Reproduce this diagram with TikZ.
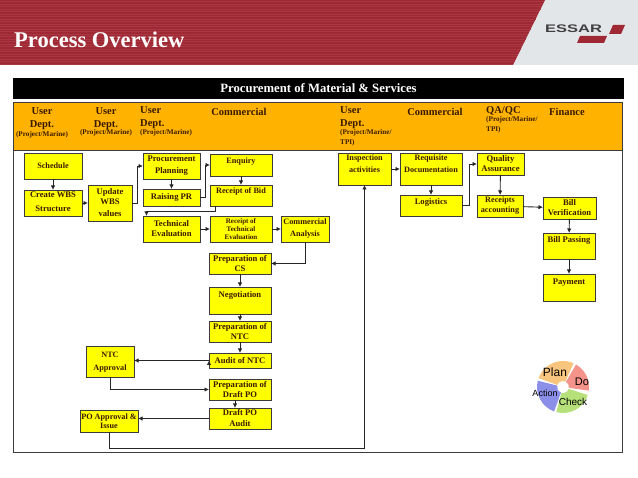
\documentclass[tikz,border=0pt]{standalone}
\usepackage{fontspec}
\setmainfont{Liberation Serif}
\newfontfamily\pdcafont{Liberation Sans}
\newfontfamily\essarfont[FakeStretch=1.5]{Liberation Sans}
\usepackage{tikz}
\usetikzlibrary{arrows.meta}
\definecolor{bandred}{HTML}{9E2833}
\definecolor{bandline}{HTML}{A93843}
\definecolor{bandgrey}{HTML}{E3E6E8}
\definecolor{headorange}{HTML}{FFB300}
\definecolor{boxyellow}{HTML}{FFFF00}
\definecolor{inkbrown}{HTML}{3A1A00}
\definecolor{lineink}{HTML}{3C3C3C}
\definecolor{pdcaplan}{HTML}{F8C57F}
\definecolor{pdcado}{HTML}{F4938A}
\definecolor{pdcacheck}{HTML}{B5E07A}
\definecolor{pdcaaction}{HTML}{8C8FE8}
\tikzset{
	procbox/.style={draw=lineink, line width=0.9pt, fill=boxyellow, inner sep=0pt, outer sep=0pt, align=center, text=inkbrown, font=\bfseries\fontsize{8.6}{10}\selectfont},
	smallbox/.style={procbox, font=\bfseries\fontsize{8.2}{9}\selectfont},
	tinybox/.style={procbox, font=\bfseries\fontsize{7}{8}\selectfont},
	headtext/.style={text=inkbrown, align=center, inner sep=0pt, font=\bfseries\fontsize{10.5}{13}\selectfont},
	headleft/.style={headtext, align=left, anchor=north west},
	flow/.style={-{Latex[length=4.5pt,width=4.5pt]}, draw=black!85, line width=0.9pt},
	pdcalabel/.style={inner sep=0pt, text=black, font=\pdcafont\fontsize{10}{10}\selectfont}
}
\newcommand{\deptsmall}[1]{{\fontsize{7.2}{8}\selectfont #1}}
\begin{document}
\begin{tikzpicture}[x=1pt,y=-1pt]
\useasboundingbox (0,0) rectangle (638,478);
\fill[white] (0,0) rectangle (638,478);
\fill[bandgrey] (0,0) rectangle (638,65);
\fill[bandred] (0,0) -- (545,0) -- (513,65) -- (0,65) -- cycle;
\foreach \y in {1.5,4,...,64}
	\draw[bandline, line width=0.35pt] (0,\y) -- ({545-\y*32/65},\y);
\node[anchor=west, inner sep=0pt, text=white, font=\bfseries\fontsize{22.5}{25}\selectfont] (title) at (14,40) {Process Overview};
\node[anchor=west, inner sep=0pt, text=black!75, font=\essarfont\bfseries\fontsize{11}{12}\selectfont] (essar) at (545,29) {ESSAR};
\fill[bandred] (613,25) -- (625,25) -- (621,34) -- (609,34) -- cycle;
\fill[bandred] (580,36) -- (607,36) -- (604,43) -- (577,43) -- cycle;

\node[fill=black, text=white, inner sep=0pt, minimum width=611pt, minimum height=21pt, font=\bfseries\fontsize{12.7}{14}\selectfont] (banner) at (318.5,88.5) {Procurement of Material \& Services};
\draw[lineink, line width=0.9pt] (13,102) rectangle (622,452);
\fill[headorange, draw=lineink, line width=0.9pt] (13,102) rectangle (622,150);

\node[headtext] (dept1) at (42,119) {User\\Dept.};
\node[headtext] (dept1p) at (42,135) {\deptsmall{(Project/Marine)}};
\node[headtext] (dept2) at (106,119) {User\\Dept.};
\node[headtext] (dept2p) at (106,133) {\deptsmall{(Project/Marine)}};
\node[headleft] (dept3) at (140,106) {User\\Dept.};
\node[headleft] (dept3p) at (140,129) {\deptsmall{(Project/Marine)}};
\node[headtext] (comm1) at (239,112) {Commercial};
\node[headleft] (dept4) at (340,106) {User\\Dept.};
\node[headleft] (dept4p) at (340,129) {\deptsmall{(Project/Marine/}\\[-2.5pt]\deptsmall{TPI)}};
\node[headtext] (comm2) at (435,112) {Commercial};
\node[headleft] (qaqc) at (486,106) {QA/QC};
\node[headleft] (qaqcp) at (486,116) {\deptsmall{(Project/Marine/}\\[-2.5pt]\deptsmall{TPI)}};
\node[headtext] (finance) at (567,112) {Finance};

\node[smallbox, minimum width=58pt, minimum height=26pt] (schedule) at (53,166) {~\\[-4pt]Schedule};
\node[procbox, minimum width=58pt, minimum height=26pt] (wbs) at (53,203) {Create WBS\\[4pt]Structure\\[-8pt]~};
\node[procbox, minimum width=44pt, minimum height=36pt] (update) at (110,203) {Update\\WBS\\[2pt]values};
\node[procbox, minimum width=57pt, minimum height=26pt] (planning) at (171.5,166) {Procurement\\[2pt]Planning};
\node[procbox, minimum width=57pt, minimum height=17pt] (raising) at (171.5,197.5) {Raising PR};
\node[smallbox, minimum width=62pt, minimum height=22pt] (enquiry) at (241,165) {Enquiry\\[-1pt]~};
\node[smallbox, minimum width=62pt, minimum height=21pt] (bid) at (241,195.5) {Receipt of Bid\\~};
\node[procbox, minimum width=57pt, minimum height=26pt] (tech) at (171.5,229) {Technical\\Evaluation};
\node[tinybox, minimum width=62pt, minimum height=26pt] (techrec) at (241,229) {Receipt of\\Technical\\Evaluation};
\node[smallbox, minimum width=48pt, minimum height=26pt] (analysis) at (305,229) {Commercial\\[3pt]Analysis};
\node[procbox, minimum width=62pt, minimum height=21pt] (cs) at (240,263.5) {Preparation of\\CS};
\node[procbox, minimum width=62pt, minimum height=27pt] (nego) at (240,300.5) {Negotiation\\[2pt]~};
\node[procbox, minimum width=62pt, minimum height=21pt] (ntc) at (240,331.5) {Preparation of\\NTC};
\node[procbox, minimum width=62pt, minimum height=15pt] (auditntc) at (240,360.5) {Audit of NTC};
\node[smallbox, minimum width=48pt, minimum height=31pt] (ntcapp) at (110,361.5) {~\\[-3pt]NTC\\[4pt]Approval};
\node[procbox, minimum width=62pt, minimum height=21pt] (draftpo) at (240,389.5) {Preparation of\\Draft PO};
\node[procbox, minimum width=62pt, minimum height=21pt] (poaudit) at (240,418.5) {Draft PO\\[1pt]Audit};
\node[smallbox, minimum width=58pt, minimum height=22pt] (poapp) at (109,421) {PO Approval \&\\Issue};

\node[smallbox, minimum width=53pt, minimum height=32pt] (inspect) at (364.5,169) {Inspection\\[3pt]activities\\[1pt]~};
\node[smallbox, minimum width=62pt, minimum height=32pt] (requisite) at (431,169) {Requisite\\[3pt]Documentation\\[1pt]~};
\node[procbox, minimum width=62pt, minimum height=21pt] (logistics) at (431,205.5) {Logistics\\[-3pt]~};
\node[procbox, minimum width=47pt, minimum height=22pt] (quality) at (500.5,164) {Quality\\Assurance};
\node[smallbox, minimum width=46pt, minimum height=22pt] (receipts) at (500,206) {Receipts\\[1pt]accounting\\[-7pt]~};
\node[procbox, minimum width=53pt, minimum height=22pt] (billver) at (569.5,208) {Bill\\Verification};
\node[procbox, minimum width=52pt, minimum height=26pt] (billpass) at (569,246) {Bill Passing\\[2pt]~};
\node[procbox, minimum width=52pt, minimum height=27pt] (payment) at (569,287.5) {Payment\\[2pt]~};

\path[flow]
(schedule) edge (wbs)
(wbs) edge (update)
(planning) edge (raising)
(enquiry) edge (bid)
(tech) edge (techrec)
(techrec) edge (analysis)
(cs) edge (nego)
(nego) edge (ntc)
(ntc) edge (auditntc)
(auditntc.west) edge (ntcapp.east |- auditntc.west)
(inspect) edge (requisite)
(requisite) edge (logistics)
(quality) edge (receipts)
(receipts) edge (billver)
(billver) edge (billpass)
(billpass) edge (payment)
;
\draw[flow] (update.east) -- ++(5,0) |- (planning.west);
\draw[flow] (raising.east) -- ++(5,0) |- (enquiry.west);
\draw[flow] ([xshift=-26pt]bid.south) -- ++(0,5) -| ([xshift=-25pt]tech.north);
\draw[flow] (analysis.south) |- (cs.east);
\draw[flow] (ntcapp.south) |- (draftpo.west);
\draw[flow] ([xshift=-5pt]draftpo.south) -- ([xshift=-5pt]poaudit.north);
\draw[flow] (poaudit.west) -- (poapp.east |- poaudit.west);
\draw[flow] (poapp.south) -- ++(0,16) -| (inspect.south);
\draw[flow] (logistics.east) -- ++(7,0) |- (quality.west);

\coordinate (pdca) at (563,387);
\foreach \s/\e/\c in {66/160/pdcaplan, -8/60/pdcado, -105/-18/pdcacheck, 166/250/pdcaaction}
	\fill[\c] (pdca) ++(\s:26pt) arc[start angle=\s, end angle=\e, radius=26pt] -- ([shift={(\e:6pt)}]pdca) arc[start angle=\e, end angle=\s, radius=6pt] -- cycle;
\node[pdcalabel, font=\pdcafont\fontsize{12}{12}\selectfont] (plan) at (555,372) {Plan};
\node[pdcalabel, font=\pdcafont\fontsize{11}{11}\selectfont] (do) at (582,382) {Do};
\node[pdcalabel, font=\pdcafont\fontsize{9}{9}\selectfont] (action) at (545,393) {Action};
\node[pdcalabel] (check) at (573,402) {Check};
\end{tikzpicture}
\end{document}
